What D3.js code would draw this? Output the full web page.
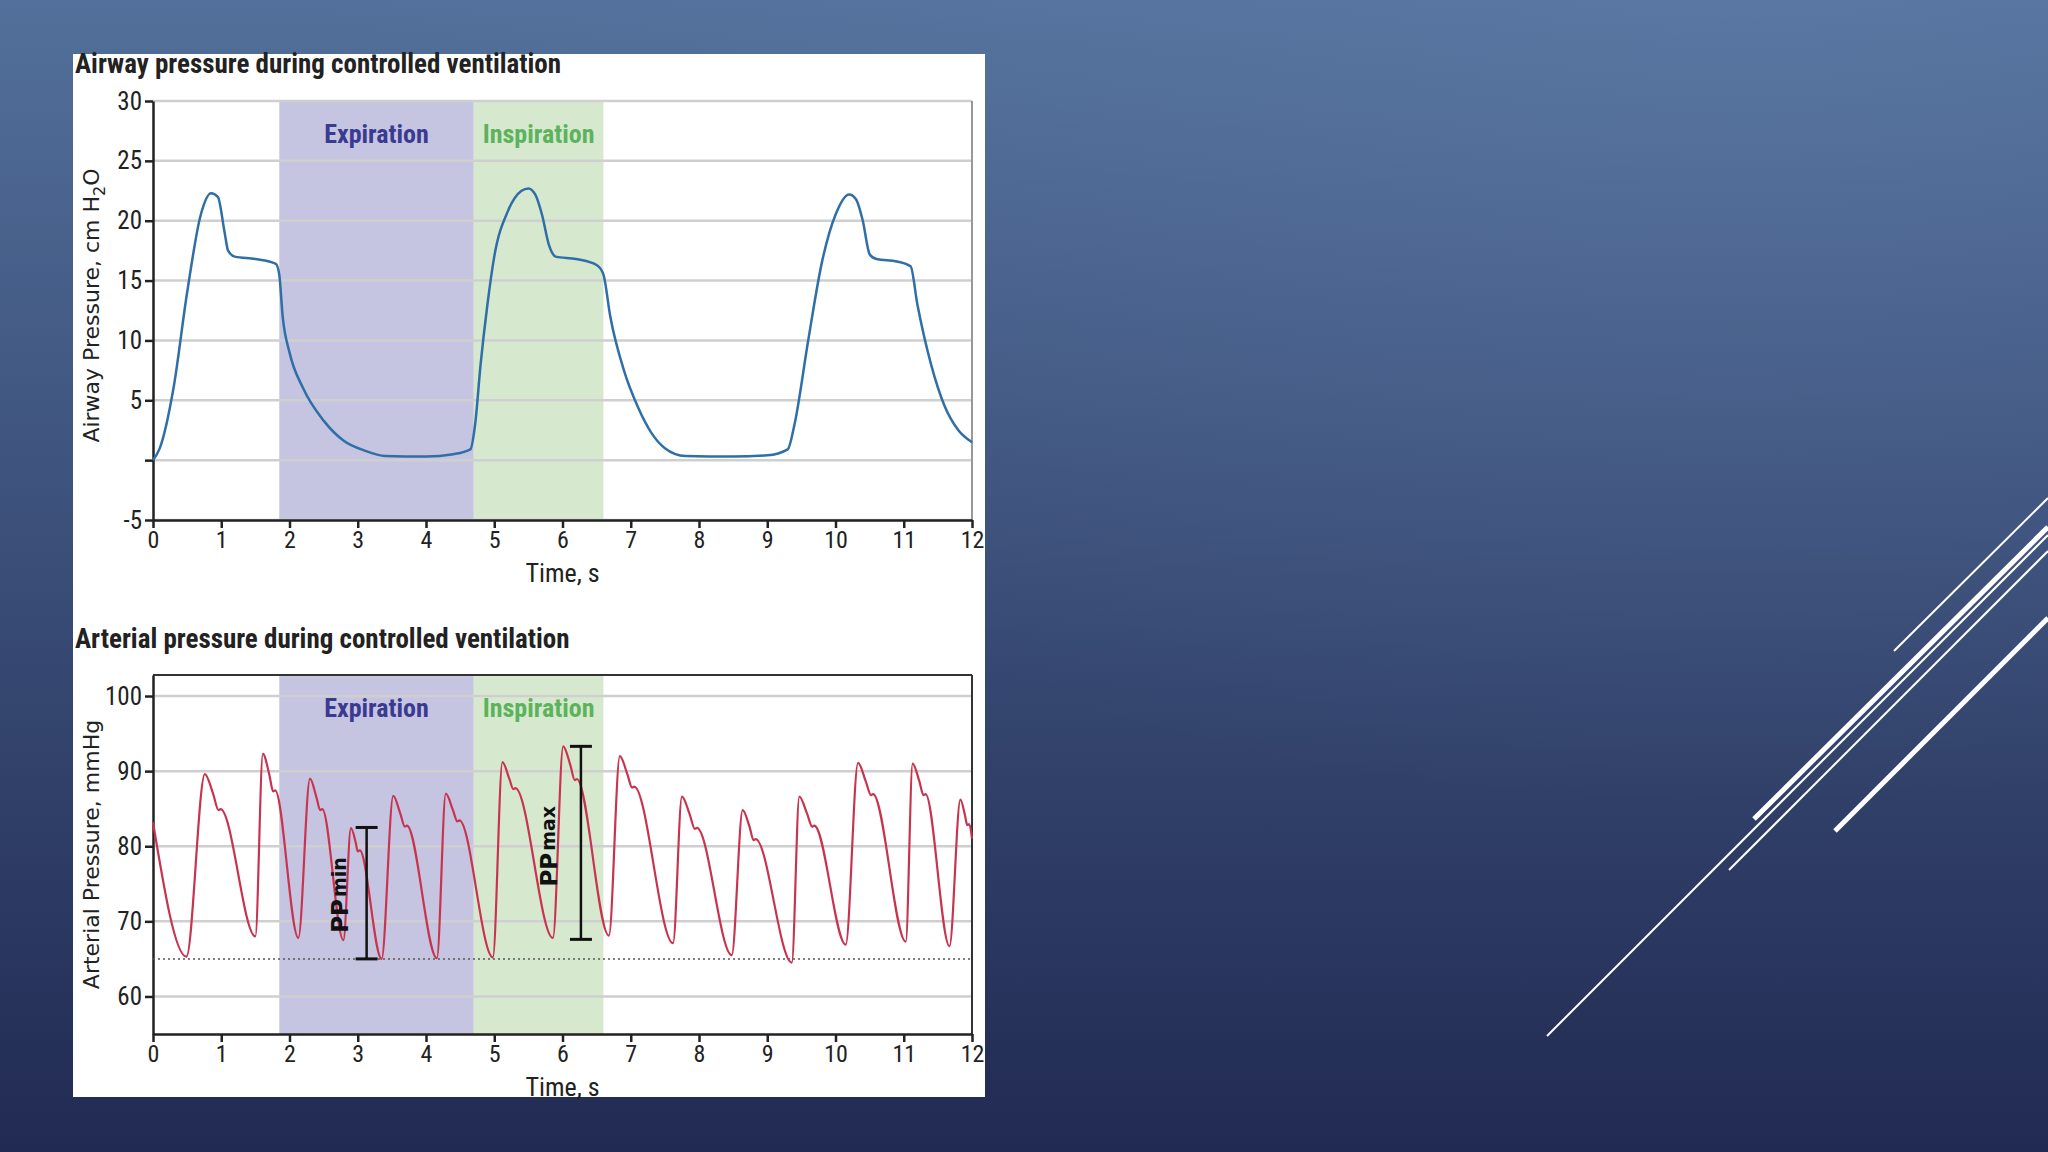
<!DOCTYPE html>
<html><head><meta charset="utf-8">
<script src="https://cdn.jsdelivr.net/npm/d3@7"></script>
<style>body{margin:0;overflow:hidden}svg{display:block}</style>
</head><body>
<script>
// ---- Data ----
const airwayTime = [0,0.1,0.3,0.5,0.7,0.85,0.95,1.05,1.1,1.2,1.5,1.8,1.85,1.9,2.0,2.2,2.5,2.8,3.1,3.4,4.0,4.4,4.65,4.72,4.8,4.9,5.0,5.2,5.4,5.5,5.6,5.7,5.8,5.9,6.2,6.5,6.6,6.7,6.9,7.1,7.3,7.5,7.8,8.5,9.0,9.3,9.4,9.6,9.8,10.0,10.2,10.3,10.4,10.5,10.6,10.9,11.1,11.2,11.4,11.6,11.8,12];
const airwayValue = [0,1,6,14,20.5,22.3,22,19,17.5,17,16.8,16.4,15.5,12,9,6,3.3,1.6,0.8,0.35,0.3,0.5,0.9,3,8,13,17,20.8,22.5,22.7,22.2,20.5,18,17,16.8,16.3,15.5,12,7.5,4.5,2.3,1,0.35,0.3,0.4,0.9,3,10,16.5,20.5,22.2,21.8,20,17.2,16.8,16.6,16.2,13,8,4.5,2.5,1.5];
// arterial beats
const beatMinT  = [0.49,1.50,2.13,2.79,3.35,4.16,4.98,5.86,6.68,7.62,8.48,9.36,10.15,11.03,11.67];
const beatMinV  = [65.3,68.0,67.8,67.5,65.0,65.1,65.2,67.8,68.1,67.1,65.5,64.5,66.9,67.3,66.7];
const beatPeakT = [0.76,1.61,2.30,2.90,3.52,4.29,5.12,6.01,6.84,7.75,8.64,9.47,10.33,11.13,11.83];
const beatPeakV = [89.6,92.3,89.0,82.4,86.7,87.0,91.2,93.3,92.0,86.6,84.8,86.6,91.1,91.0,86.2];
const shoulderV = [87.0,89.5,86.5,80.5,84.3,84.8,89.0,90.8,89.6,84.2,82.6,84.3,88.6,88.6,84.0];
const notchT    = [0.96,1.76,2.45,3.00,3.69,4.46,5.28,6.18,7.02,7.94,8.80,9.66,10.52,11.29,11.93];
const notchV    = [84.8,87.3,84.8,79.3,82.6,83.3,87.6,88.8,87.8,82.3,80.8,82.6,86.8,86.8,82.8];
const arterialStart = [0,83.2];
const arterialEnd = [12,81];
const xTicks = [0,1,2,3,4,5,6,7,8,9,10,11,12];
const airwayTicks = [-5,0,5,10,15,20,25,30];
const arterialTicks = [60,70,80,90,100];
const phases = [{name:"Expiration",start:1.85,end:4.7},{name:"Inspiration",start:4.7,end:6.6}];
const baselineMin = 65;
const ppMin = {t:3.13,lo:65,hi:82.5,label:"min",lt:2.85,lv:73.5};
const ppMax = {t:6.27,lo:67.6,hi:93.3,label:"max",lt:5.92,lv:80};

const W=2048,H=1152;
const svg=d3.select("body").append("svg").attr("width",W).attr("height",H);
const defs=svg.append("defs");
const g=defs.append("linearGradient").attr("id","bg").attr("x1",0).attr("y1",0).attr("x2",0).attr("y2",1);
g.append("stop").attr("offset","0%").attr("stop-color","#52709b");
g.append("stop").attr("offset","100%").attr("stop-color","#212a52");
svg.append("rect").attr("width",W).attr("height",H).attr("fill","url(#bg)");
const g2=defs.append("radialGradient").attr("id","hl").attr("cx",0.85).attr("cy",0).attr("r",0.7);
g2.append("stop").attr("offset","0%").attr("stop-color","#6a88b4").attr("stop-opacity",0.3);
g2.append("stop").attr("offset","100%").attr("stop-color","#6a88b4").attr("stop-opacity",0);
svg.append("rect").attr("width",W).attr("height",H).attr("fill","url(#hl)");

[[1894,651,2048,498,2],[1754,819,2048,527,5],[1547,1036,2048,535,2],[1729,870,2048,551,2],[1835,831,2048,618,5]].forEach(l=>{
  svg.append("line").attr("x1",l[0]).attr("y1",l[1]).attr("x2",l[2]).attr("y2",l[3]).attr("stroke","#fff").attr("stroke-width",l[4]);
});

svg.append("rect").attr("x",73).attr("y",54).attr("width",912).attr("height",1043).attr("fill","#fff");

const cond="'Liberation Sans Narrow','Roboto Condensed','Arial Narrow',sans-serif";
const X0=153,X1=972;
const x=d3.scaleLinear().domain([0,12]).range([X0,X1]);

function panel(y, title, titleY, top, bottom, ticks, frame){
  const gp=svg.append("g");
  gp.append("text").attr("x",75).attr("y",titleY).attr("font-family",cond).attr("font-size",27).attr("font-weight","bold").attr("fill","#222").text(title);
  phases.forEach((p,i)=>{
    gp.append("rect").attr("x",x(p.start)).attr("y",top).attr("width",x(p.end)-x(p.start)).attr("height",bottom-top)
      .attr("fill",i==0?"#c5c5e2":"#d6e9cf");
  });
  ticks.forEach(t=>{
    gp.append("line").attr("x1",X0).attr("x2",X1).attr("y1",y(t)).attr("y2",y(t)).attr("stroke","#cfcfcf").attr("stroke-width",2.5);
  });
  phases.forEach((p,i)=>{
    gp.append("text").attr("x",(x(p.start)+x(p.end))/2).attr("y",top+42).attr("text-anchor","middle")
      .attr("font-family",cond).attr("font-size",26).attr("font-weight","bold").attr("fill",i==0?"#3a3a90":"#5cb35c").text(p.name);
  });
  if(frame){
    gp.append("line").attr("x1",X0).attr("x2",X1).attr("y1",top).attr("y2",top).attr("stroke","#333").attr("stroke-width",2);
  }
  gp.append("line").attr("x1",X1).attr("x2",X1).attr("y1",top).attr("y2",bottom).attr("stroke",frame?"#333":"#999").attr("stroke-width",2);
  const ax=gp.append("g").attr("transform",`translate(0,${bottom})`).call(d3.axisBottom(x).tickValues(xTicks).tickSize(8).tickSizeOuter(0));
  ax.selectAll("text").attr("font-family",cond).attr("font-size",24).attr("fill","#222").attr("dy","0.7em");
  ax.selectAll("line,path").attr("stroke","#222").attr("stroke-width",2.5);
  const ay=gp.append("g").attr("transform",`translate(${X0},0)`).call(d3.axisLeft(y).tickValues(ticks).tickSize(8).tickSizeOuter(0).tickFormat(d=>d===0?"":d));
  ay.selectAll("text").attr("font-family",cond).attr("font-size",25).attr("fill","#222");
  ay.selectAll("line,path").attr("stroke","#222").attr("stroke-width",2.5);
  gp.append("text").attr("x",(X0+X1)/2).attr("y",bottom+62).attr("text-anchor","middle").attr("font-family",cond).attr("font-size",26).attr("fill","#222").text("Time, s");
  return gp;
}

const yA=d3.scaleLinear().domain([-5,30]).range([520,101]);
const pA=panel(yA,"Airway pressure during controlled ventilation",73,101,520,airwayTicks,false);
const ylA=pA.append("text").attr("transform",`translate(99,${(101+520)/2-5}) rotate(-90)`).attr("text-anchor","middle")
  .attr("font-family","'DejaVu Sans',sans-serif").attr("font-size",22).attr("fill","#222");
ylA.append("tspan").text("Airway Pressure, cm H");
ylA.append("tspan").attr("font-size",16).attr("dy",6).text("2");
ylA.append("tspan").attr("dy",-6).text("O");
const airPts=airwayTime.map((t,i)=>[t,airwayValue[i]]);
pA.append("path").attr("d",d3.line().x(d=>x(d[0])).y(d=>yA(d[1])).curve(d3.curveMonotoneX)(airPts))
  .attr("fill","none").attr("stroke","#2f6ea6").attr("stroke-width",2.5);

const yB=d3.scaleLinear().domain([55,102.8]).range([1034,675]);
const pB=panel(yB,"Arterial pressure during controlled ventilation",648,675,1034,arterialTicks,true);
pB.append("text").attr("transform",`translate(99,${(675+1034)/2}) rotate(-90)`).attr("text-anchor","middle")
  .attr("font-family","'DejaVu Sans',sans-serif").attr("font-size",22).attr("fill","#222").text("Arterial Pressure, mmHg");
pB.append("line").attr("x1",X0).attr("x2",X1).attr("y1",yB(baselineMin)).attr("y2",yB(baselineMin))
  .attr("stroke","#555").attr("stroke-width",1.5).attr("stroke-dasharray","2,3");
const artPts=[arterialStart];
beatMinT.forEach((t,i)=>{
  artPts.push([t,beatMinV[i]]);
  artPts.push([beatPeakT[i],beatPeakV[i]]);
  artPts.push([(beatPeakT[i]+notchT[i])/2+0.02,shoulderV[i]]);
  artPts.push([notchT[i],notchV[i]]);
  artPts.push([notchT[i]+0.03,notchV[i]+0.15]);
});
artPts.push(arterialEnd);
pB.append("path").attr("d",d3.line().x(d=>x(d[0])).y(d=>yB(d[1])).curve(d3.curveMonotoneX)(artPts))
  .attr("fill","none").attr("stroke","#c8344f").attr("stroke-width",2.2);

[ppMin,ppMax].forEach(p=>{
  const gx=x(p.t);
  pB.append("line").attr("x1",gx).attr("x2",gx).attr("y1",yB(p.lo)).attr("y2",yB(p.hi)).attr("stroke","#111").attr("stroke-width",2.5);
  [p.lo,p.hi].forEach(v=>pB.append("line").attr("x1",gx-11).attr("x2",gx+11).attr("y1",yB(v)).attr("y2",yB(v)).attr("stroke","#111").attr("stroke-width",3));
  const t=pB.append("text").attr("transform",`translate(${x(p.lt)},${yB(p.lv)}) rotate(-90)`).attr("text-anchor","middle")
    .attr("font-family","'DejaVu Sans',sans-serif").attr("font-weight","bold").attr("font-size",23).attr("fill","#111");
  t.append("tspan").text("PP");
  t.append("tspan").attr("font-size",19).attr("dy",-2).attr("dx",2).text(p.label);
});
</script>
</body></html>
